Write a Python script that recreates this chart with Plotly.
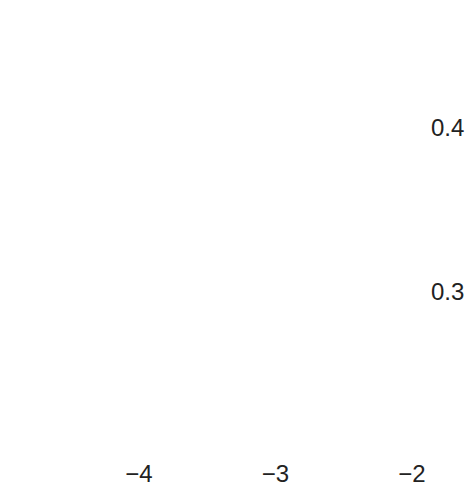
import plotly.graph_objects as go

# axis tick values
x_ticks = [-4, -3, -2]
y_ticks = [0.3, 0.4]

# visible window of the axes
x_range = [-4.96, -1.868]
y_range = [0.2019, 0.4732]

fig = go.Figure()
# empty trace so the axes exist
fig.add_trace(go.Scatter(x=[], y=[], mode="lines", showlegend=False))

fig.update_layout(
    width=474, height=494,
    margin={"l": 0, "r": 52, "t": 0, "b": 49},
    paper_bgcolor="white", plot_bgcolor="white",
    font=dict(family="Liberation Sans, Arial, sans-serif", size=24, color="#222222"),
    showlegend=False,
)
fig.update_xaxes(range=x_range, tickvals=x_ticks, showgrid=False, zeroline=False,
                 showline=False, ticks="", ticklabelstandoff=4)
fig.update_yaxes(range=y_range, tickvals=y_ticks, side="right", showgrid=False,
                 zeroline=False, showline=False, ticks="", ticklabelstandoff=0)

fig.write_html("out.html")
